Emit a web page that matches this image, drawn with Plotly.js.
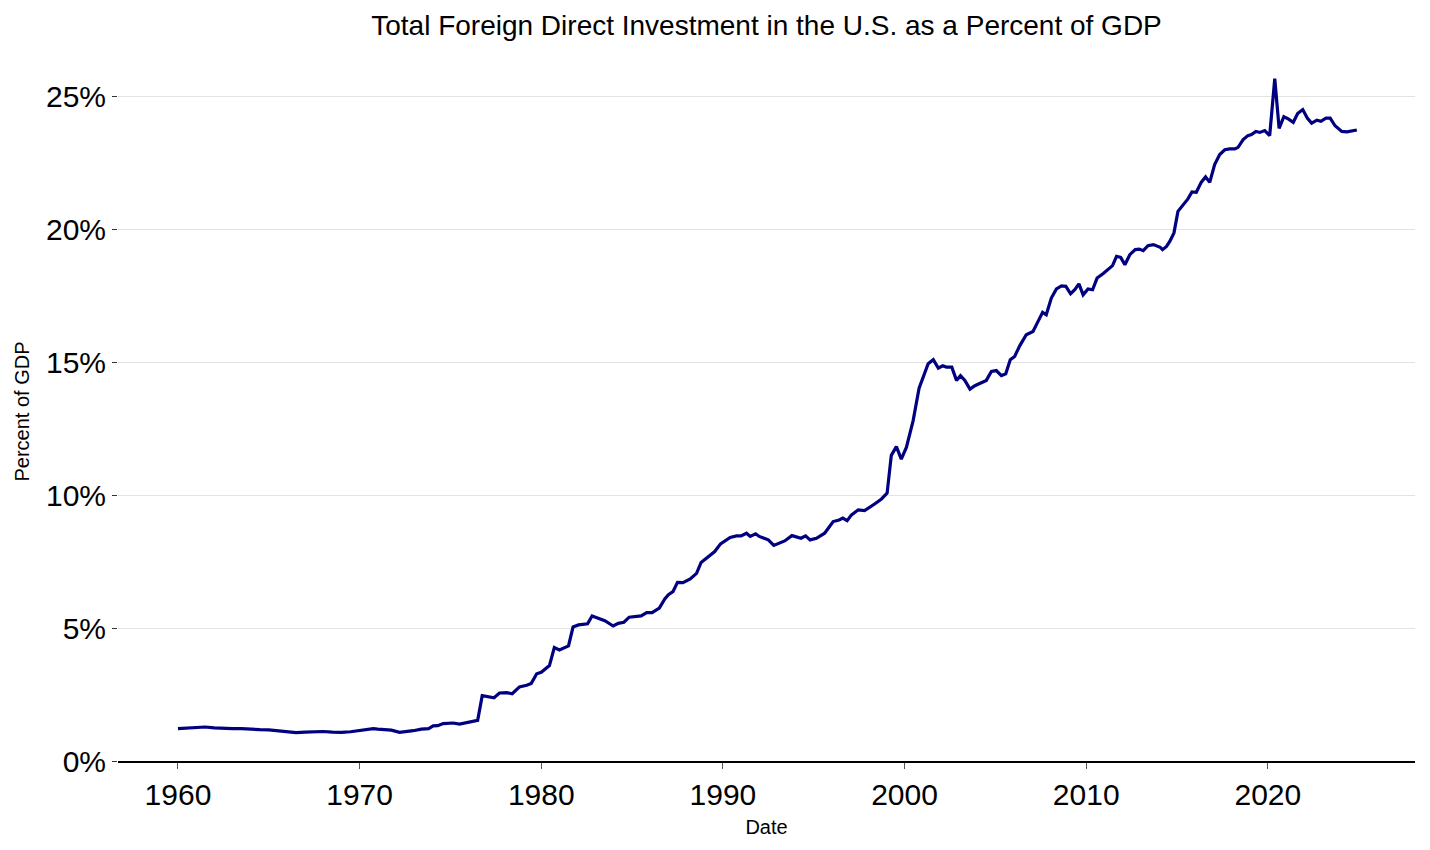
<!DOCTYPE html>
<html>
<head>
<meta charset="utf-8">
<script src="https://cdn.plot.ly/plotly-3.0.1.min.js"></script>
<style>
  html, body { margin: 0; padding: 0; background: #fff; }
  #chart { width: 1430px; height: 850px; }
</style>
</head>
<body>
<div id="chart"></div>
<script>
// ---- data (decimal year, % of GDP) ----
const years = [
  1960.0, 1960.5, 1961.0, 1961.5, 1962.0, 1962.5, 1963.0, 1963.5, 1964.0, 1964.5,
  1965.0, 1965.5, 1966.0, 1966.5, 1967.0, 1967.5, 1968.0, 1968.5, 1969.0, 1969.5,
  1970.0, 1970.5, 1970.75, 1971.0, 1971.5, 1971.75, 1972.2, 1972.6, 1972.95, 1973.4,
  1973.8, 1974.05, 1974.3, 1974.6, 1975.15, 1975.5, 1976.0, 1976.5, 1976.75, 1977.4,
  1977.7, 1978.1, 1978.4, 1978.8, 1979.2, 1979.45, 1979.75, 1980.0, 1980.45, 1980.72,
  1981.0, 1981.5, 1981.75, 1982.05, 1982.55, 1982.8, 1983.5, 1983.96, 1984.24, 1984.55,
  1984.84, 1985.5, 1985.8, 1986.1, 1986.5, 1986.8, 1987.0, 1987.25, 1987.5, 1987.8,
  1988.2, 1988.55, 1988.8, 1989.3, 1989.55, 1989.87, 1990.4, 1990.75, 1991.0, 1991.3,
  1991.5, 1991.8, 1992.0, 1992.5, 1992.8, 1993.4, 1993.8, 1994.3, 1994.55, 1994.8,
  1995.15, 1995.6, 1996.07, 1996.4, 1996.6, 1996.84, 1997.08, 1997.45, 1997.8, 1998.37,
  1998.73, 1999.04, 1999.27, 1999.55, 1999.82, 2000.1, 2000.47, 2000.8, 2001.03, 2001.3,
  2001.58, 2001.86, 2002.1, 2002.3, 2002.6, 2002.86, 2003.08, 2003.32, 2003.6, 2003.87,
  2004.5, 2004.78, 2005.05, 2005.33, 2005.57, 2005.82, 2006.06, 2006.34, 2006.7, 2007.07,
  2007.35, 2007.6, 2007.8, 2008.08, 2008.36, 2008.64, 2008.88, 2009.14, 2009.37, 2009.6,
  2009.83, 2010.1, 2010.35, 2010.6, 2010.94, 2011.27, 2011.45, 2011.67, 2011.9, 2012.13,
  2012.4, 2012.7, 2012.92, 2013.14, 2013.4, 2013.7, 2014.07, 2014.2, 2014.42, 2014.6,
  2014.83, 2015.05, 2015.33, 2015.6, 2015.82, 2016.06, 2016.33, 2016.57, 2016.8, 2017.07,
  2017.35, 2017.63, 2017.9, 2018.18, 2018.36, 2018.64, 2018.9, 2019.1, 2019.34, 2019.56,
  2019.83, 2020.1, 2020.38, 2020.62, 2020.88, 2021.12, 2021.4, 2021.64, 2021.92, 2022.17,
  2022.41, 2022.7, 2022.92, 2023.2, 2023.43, 2023.7, 2024.07, 2024.35, 2024.9
];
const fdiPct = [
  1.22, 1.25, 1.28, 1.28, 1.25, 1.22, 1.22, 1.22, 1.19, 1.18,
  1.17, 1.14, 1.10, 1.07, 1.09, 1.11, 1.11, 1.09, 1.08, 1.10,
  1.15, 1.19, 1.22, 1.20, 1.16, 1.16, 1.08, 1.10, 1.14, 1.20,
  1.22, 1.32, 1.33, 1.41, 1.43, 1.39, 1.46, 1.53, 2.46, 2.38,
  2.56, 2.57, 2.53, 2.79, 2.85, 2.92, 3.28, 3.34, 3.59, 4.27,
  4.18, 4.33, 5.04, 5.12, 5.16, 5.46, 5.28, 5.08, 5.18, 5.22,
  5.41, 5.46, 5.58, 5.58, 5.75, 6.10, 6.26, 6.37, 6.72, 6.71,
  6.85, 7.06, 7.47, 7.76, 7.88, 8.17, 8.41, 8.47, 8.47, 8.57,
  8.45, 8.55, 8.45, 8.32, 8.11, 8.28, 8.48, 8.38, 8.47, 8.32,
  8.38, 8.57, 9.01, 9.07, 9.14, 9.04, 9.26, 9.45, 9.42, 9.68,
  9.86, 10.08, 11.50, 11.83, 11.36, 11.80, 12.80, 14.03, 14.47, 14.95,
  15.10, 14.78, 14.87, 14.82, 14.82, 14.32, 14.50, 14.32, 13.99, 14.12,
  14.32, 14.66, 14.69, 14.50, 14.57, 15.10, 15.22, 15.62, 16.04, 16.16,
  16.54, 16.88, 16.79, 17.42, 17.76, 17.88, 17.86, 17.58, 17.73, 17.95,
  17.54, 17.76, 17.73, 18.17, 18.34, 18.51, 18.64, 18.99, 18.95, 18.67,
  19.05, 19.24, 19.26, 19.20, 19.39, 19.43, 19.33, 19.24, 19.36, 19.55,
  19.87, 20.68, 20.93, 21.15, 21.41, 21.40, 21.77, 21.98, 21.77, 22.44,
  22.82, 23.00, 23.03, 23.03, 23.09, 23.38, 23.53, 23.57, 23.69, 23.65,
  23.72, 23.53, 25.67, 23.80, 24.24, 24.16, 24.03, 24.36, 24.51, 24.19,
  24.00, 24.11, 24.07, 24.19, 24.19, 23.90, 23.69, 23.67, 23.74
];

const xTicks = [1960, 1970, 1980, 1990, 2000, 2010, 2020];
const yTicks = [0, 5, 10, 15, 20, 25];
const yTickLabels = ['0%', '5%', '10%', '15%', '20%', '25%'];

const FONT = '"Liberation Sans", Arial, Helvetica, sans-serif';

Plotly.newPlot('chart', [{
  type: 'scatter',
  mode: 'lines',
  x: years,
  y: fdiPct,
  line: { color: '#000080', width: 3.2 },
  hoverinfo: 'x+y',
}], {
  width: 1430,
  height: 850,
  paper_bgcolor: '#fff',
  plot_bgcolor: '#fff',
  font: { family: FONT, color: '#000' },
  showlegend: false,
  margin: { l: 118, r: 15, t: 62, b: 89 },
  title: {
    text: 'Total Foreign Direct Investment in the U.S. as a Percent of GDP',
    font: { family: FONT, size: 28, color: '#000' },
    x: 0.5, xref: 'paper', xanchor: 'center',
    y: 1 - 25 / 850, yref: 'container', yanchor: 'middle',
  },
  xaxis: {
    range: [1956.7, 2028.1],
    tickvals: xTicks,
    ticktext: xTicks.map(String),
    tickfont: { family: FONT, size: 30, color: '#000' },
    ticks: 'outside', ticklen: 6, tickwidth: 1, tickcolor: '#555',
    showline: true, linecolor: '#000', linewidth: 1.5,
    showgrid: false, zeroline: false,
    title: { text: 'Date', font: { family: FONT, size: 20, color: '#000' }, standoff: 10 },
  },
  yaxis: {
    range: [0, 26.3],
    tickvals: yTicks,
    ticktext: yTickLabels,
    tickfont: { family: FONT, size: 30, color: '#000' },
    ticks: 'outside', ticklen: 5, tickwidth: 1, tickcolor: '#333',
    showline: false, zeroline: false,
    showgrid: true, gridcolor: '#e3e3e3', gridwidth: 1.2,
    title: { text: 'Percent of GDP', font: { family: FONT, size: 20, color: '#000' }, standoff: 10 },
  },
}, { displayModeBar: false, staticPlot: true });
</script>
</body>
</html>
